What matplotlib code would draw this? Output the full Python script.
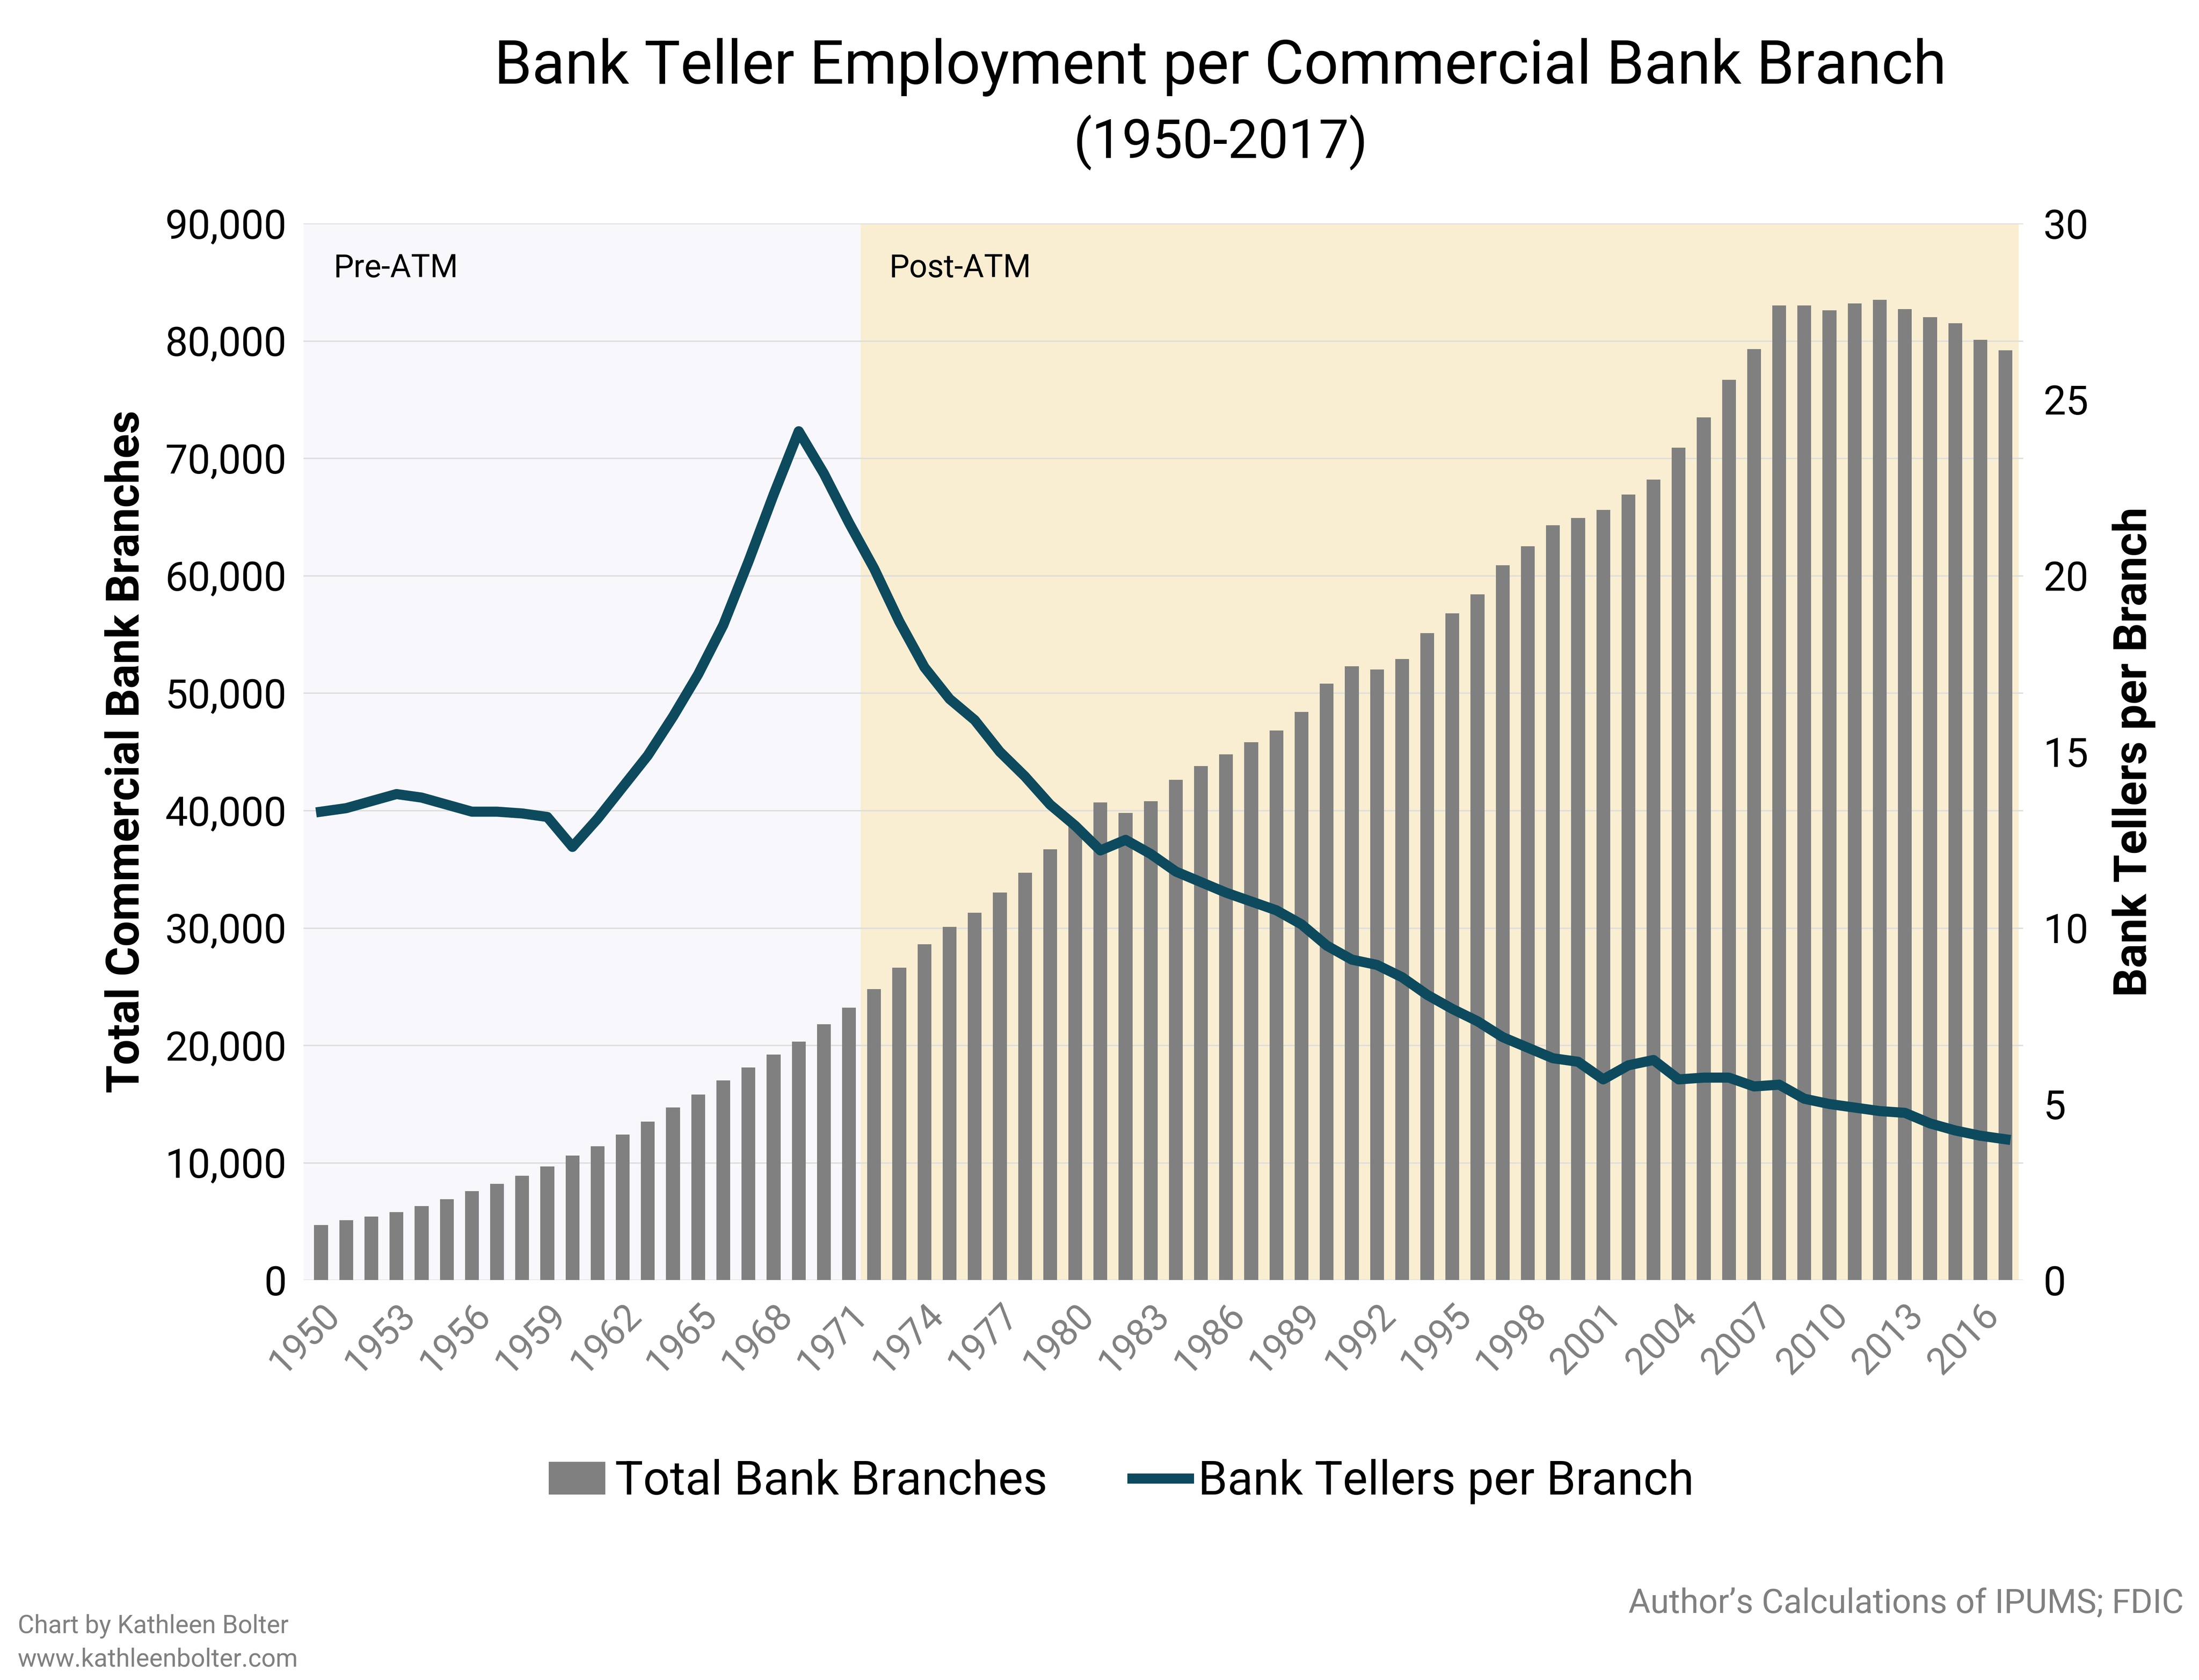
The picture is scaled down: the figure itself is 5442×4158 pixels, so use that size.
import numpy as np
import matplotlib
matplotlib.use("Agg")
import matplotlib.pyplot as plt

plt.rcParams['font.family'] = ['Roboto', 'DejaVu Sans']

years = np.arange(1950, 2018)
branches = [4.7, 5.1, 5.4, 5.8, 6.3, 6.9, 7.6, 8.2, 8.9, 9.7,
            10.6, 11.4, 12.4, 13.5, 14.7, 15.8, 17.0, 18.1, 19.2, 20.3,
            21.8, 23.2, 24.8, 26.6, 28.6, 30.1, 31.3, 33.0, 34.7, 36.7,
            38.7, 40.7, 39.8, 40.8, 42.6, 43.8, 44.8, 45.8, 46.8, 48.4,
            50.8, 52.3, 52.0, 52.9, 55.1, 56.8, 58.4, 60.9, 62.5, 64.3,
            64.9, 65.6, 66.9, 68.2, 70.9, 73.5, 76.7, 79.3, 83.0, 83.0,
            82.6, 83.2, 83.5, 82.7, 82.0, 81.5, 80.1, 79.2]
branches = np.array(branches) * 1000
tellers = [13.3, 13.4, 13.6, 13.8, 13.7, 13.5, 13.3, 13.3, 13.25, 13.15,
           12.3, 13.1, 14.0, 14.9, 16.0, 17.2, 18.6, 20.4, 22.3, 24.1,
           22.9, 21.5, 20.2, 18.7, 17.4, 16.5, 15.9, 15.0, 14.3, 13.5,
           12.9, 12.2, 12.5, 12.1, 11.6, 11.3, 11.0, 10.75, 10.5, 10.1,
           9.5, 9.1, 8.95, 8.6, 8.1, 7.7, 7.35, 6.9, 6.6, 6.3,
           6.2, 5.7, 6.1, 6.25, 5.7, 5.75, 5.75, 5.5, 5.55, 5.15,
           5.0, 4.9, 4.8, 4.75, 4.45, 4.25, 4.1, 4.0]

fig = plt.figure(figsize=(5442 / 300, 4158 / 300), dpi=300)
ax = fig.add_axes([0.138, 0.238, 0.782, 0.629])
ax2 = ax.twinx()

ax.axvspan(1949.3, 1971.5, color='#F8F8FC', zorder=0)
ax.axvspan(1971.5, 2017.5, color='#F9EED2', zorder=0)
ax.bar(years, branches, width=0.55, color='#808080', zorder=2, label='Total Bank Branches')
ax2.plot(years, tellers, color='#0D4A5E', lw=6, zorder=3, label='Bank Tellers per Branch')

ax.set_xlim(1949.3, 2017.7)
ax.set_ylim(0, 90000)
ax2.set_ylim(0, 30)
ax.set_yticks(np.arange(0, 90001, 10000))
ax.set_yticklabels([f"{v:,}" for v in range(0, 90001, 10000)], fontsize=24)
ax2.set_yticks(np.arange(0, 31, 5))
ax2.tick_params(labelsize=24, length=0, pad=12)
ax.yaxis.grid(True, color='#DDDDDD', lw=0.8)
ax.set_axisbelow(True)
ax.set_xticks(years[::3])
ax.set_xticklabels(years[::3], rotation=45, ha='right', rotation_mode='anchor',
                   fontsize=22, color='#808080')
ax.tick_params(length=0, pad=10)
for a in (ax, ax2):
    for s in a.spines.values():
        s.set_visible(False)

ax.set_ylabel('Total Commercial Bank Branches', fontsize=27, fontweight='bold', labelpad=10)
ax2.set_ylabel('Bank Tellers per Branch', fontsize=27, fontweight='bold', labelpad=14)
ax.text(1950.5, 87500, 'Pre-ATM', fontsize=19, va='top')
ax.text(1972.6, 87500, 'Post-ATM', fontsize=19, va='top')

fig.text(0.555, 0.96, 'Bank Teller Employment per Commercial Bank Branch',
         ha='center', va='center', fontsize=36)
fig.text(0.555, 0.915, '(1950-2017)', ha='center', va='center', fontsize=32)

h1, l1 = ax.get_legend_handles_labels()
h2, l2 = ax2.get_legend_handles_labels()
fig.legend(h1 + h2, l1 + l2, loc='center', bbox_to_anchor=(0.51, 0.118), ncol=2,
           frameon=False, fontsize=28, handlelength=1.2, handletextpad=0.2, columnspacing=1.8)

fig.text(0.993, 0.04, 'Author\u2019s Calculations of IPUMS; FDIC', ha='right',
         fontsize=20, color='#808080')
fig.text(0.008, 0.028, 'Chart by Kathleen Bolter', fontsize=15, color='#808080')
fig.text(0.008, 0.008, 'www.kathleenbolter.com', fontsize=15, color='#808080')

fig.savefig('out.png', dpi=300, facecolor='white')
